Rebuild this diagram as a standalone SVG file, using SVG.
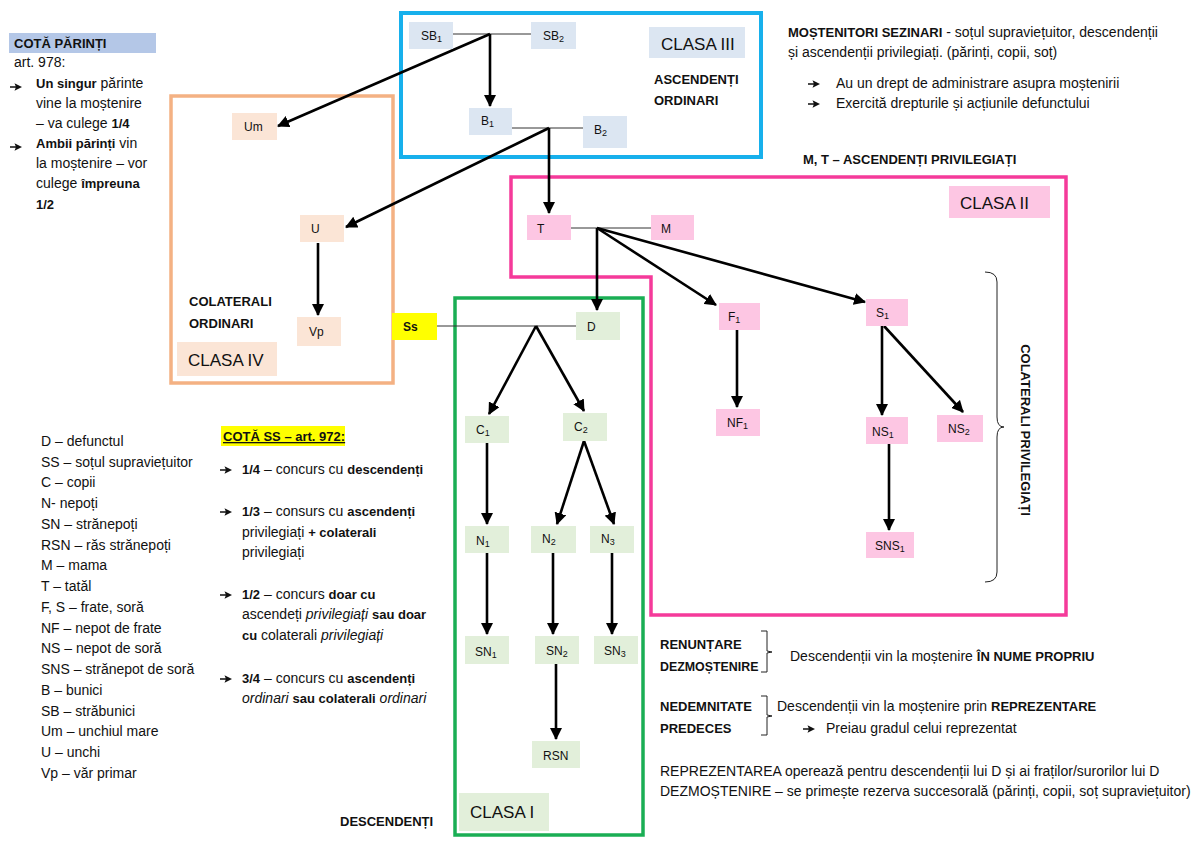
<svg xmlns="http://www.w3.org/2000/svg" xmlns:xlink="http://www.w3.org/1999/xlink" width="1200" height="849" viewBox="0 0 1200 849">
<style>
text{font-family:"Liberation Sans",Arial,sans-serif;font-size:14px;fill:#111}
.b{font-weight:bold;font-size:13px}
.i{font-style:italic}
.n{font-size:12px}
.sub{font-size:9px}
.cl{font-size:17px}
.blue{fill:#dce6f2}
.orng{fill:#fbe5d6}
.grn{fill:#e2efda}
.pink{fill:#fdc6e3}
.arr{stroke:#000;stroke-width:2.6;fill:none;marker-end:url(#ah)}
.thin{stroke:#333;stroke-width:1;fill:none}
</style>
<defs>
<marker id="ah" markerUnits="userSpaceOnUse" markerWidth="12" markerHeight="12" viewBox="0 0 12 12" refX="11" refY="6" orient="auto">
<path d="M0,0 L12,6 L0,12 z" fill="#000"/>
</marker>
<symbol id="bul" viewBox="0 0 12 8">
<path d="M0,3.3 H6 V4.7 H0 z M4.5,0.3 L12,4 L4.5,7.7 L6,4 z" fill="#111"/>
</symbol>
</defs>
<rect width="1200" height="849" fill="#fff"/>

<!-- class frames -->
<g id="frames">
<rect x="401" y="13" width="360" height="144" fill="none" stroke="#17b0ec" stroke-width="4"/>
<rect x="171" y="96" width="222" height="287" fill="none" stroke="#f4b183" stroke-width="3.5"/>
<path d="M511,277 V177 H1066 V615 H651 V277 Z" fill="none" stroke="#f53a9a" stroke-width="3.5"/>
<rect x="455" y="298" width="188" height="537" fill="none" stroke="#1aae54" stroke-width="3.5"/>
</g>

<!-- connectors -->
<g id="connectors">
<line class="thin" x1="453" y1="34" x2="531" y2="34"/>
<line class="thin" x1="512" y1="128" x2="583" y2="128"/>
<line class="thin" x1="571" y1="228" x2="651" y2="228"/>
<line class="thin" x1="437" y1="326" x2="576" y2="326"/>
<line class="arr" x1="490" y1="34" x2="490" y2="106"/>
<line class="arr" x1="490" y1="34" x2="278" y2="126"/>
<line class="arr" x1="549" y1="128" x2="346" y2="227"/>
<line class="arr" x1="549" y1="128" x2="549" y2="213"/>
<line class="arr" x1="318" y1="243" x2="318" y2="315"/>
<line class="arr" x1="597" y1="228" x2="597" y2="310"/>
<line class="arr" x1="597" y1="228" x2="716" y2="305"/>
<line class="arr" x1="597" y1="228" x2="865" y2="302"/>
<line class="arr" x1="737" y1="330" x2="737" y2="407"/>
<line class="arr" x1="882" y1="326" x2="882" y2="415"/>
<line class="arr" x1="884" y1="326" x2="963" y2="412"/>
<line class="arr" x1="889" y1="444" x2="889" y2="530"/>
<line class="arr" x1="536" y1="326" x2="489" y2="414"/>
<line class="arr" x1="536" y1="326" x2="584" y2="411"/>
<line class="arr" x1="487" y1="443" x2="487" y2="524"/>
<line class="arr" x1="584" y1="441" x2="557" y2="524"/>
<line class="arr" x1="584" y1="441" x2="614" y2="524"/>
<line class="arr" x1="487" y1="553" x2="487" y2="634"/>
<line class="arr" x1="553" y1="553" x2="553" y2="634"/>
<line class="arr" x1="612" y1="553" x2="612" y2="634"/>
<line class="arr" x1="556" y1="664" x2="556" y2="739"/>
</g>

<!-- Clasa III nodes -->
<g id="SB1"><rect class="blue" x="409" y="22" width="44" height="27"/><text class="n" x="421" y="40">SB<tspan class="sub" dy="2">1</tspan></text></g>
<g id="SB2"><rect class="blue" x="531" y="22" width="45" height="27"/><text class="n" x="543" y="40">SB<tspan class="sub" dy="2">2</tspan></text></g>
<g id="B1"><rect class="blue" x="469" y="108" width="43" height="27"/><text class="n" x="481" y="125">B<tspan class="sub" dy="2">1</tspan></text></g>
<g id="B2"><rect class="blue" x="583" y="116" width="44" height="32"/><text class="n" x="594" y="134">B<tspan class="sub" dy="2">2</tspan></text></g>
<g id="clasa3"><rect class="blue" x="649" y="27" width="96" height="31"/><text class="cl" x="661" y="50">CLASA III</text></g>
<g id="asc-ord"><text class="b" x="654" y="84">ASCENDENȚI</text><text class="b" x="654" y="105">ORDINARI</text></g>

<!-- Clasa IV nodes -->
<g id="Um"><rect class="orng" x="232" y="113" width="45" height="27"/><text class="n" x="244" y="131">Um</text></g>
<g id="U"><rect class="orng" x="300" y="215" width="44" height="27"/><text class="n" x="311" y="233">U</text></g>
<g id="Vp"><rect class="orng" x="297" y="317" width="44" height="29"/><text class="n" x="309" y="336">Vp</text></g>
<g id="clasa4"><rect class="orng" x="177" y="342" width="100" height="34"/><text class="cl" x="188" y="366">CLASA IV</text></g>
<g id="col-ord"><text class="b" x="189" y="306">COLATERALI</text><text class="b" x="189" y="328">ORDINARI</text></g>

<!-- Ss -->
<g id="Ss"><rect x="392" y="313" width="45" height="27" fill="#ffff00"/><text class="b" x="403" y="331" style="font-size:12px">Ss</text></g>

<!-- Clasa I nodes -->
<g id="D"><rect class="grn" x="576" y="312" width="44" height="28"/><text class="n" x="587" y="331">D</text></g>
<g id="C1"><rect class="grn" x="465" y="416" width="44" height="27"/><text class="n" x="476" y="434">C<tspan class="sub" dy="2">1</tspan></text></g>
<g id="C2"><rect class="grn" x="563" y="413" width="44" height="28"/><text class="n" x="574" y="431">C<tspan class="sub" dy="2">2</tspan></text></g>
<g id="N1"><rect class="grn" x="465" y="526" width="44" height="27"/><text class="n" x="476" y="545">N<tspan class="sub" dy="2">1</tspan></text></g>
<g id="N2"><rect class="grn" x="531" y="526" width="45" height="27"/><text class="n" x="542" y="543">N<tspan class="sub" dy="2">2</tspan></text></g>
<g id="N3"><rect class="grn" x="590" y="526" width="44" height="27"/><text class="n" x="601" y="543">N<tspan class="sub" dy="2">3</tspan></text></g>
<g id="SN1"><rect class="grn" x="465" y="636" width="44" height="28"/><text class="n" x="475" y="656">SN<tspan class="sub" dy="2">1</tspan></text></g>
<g id="SN2"><rect class="grn" x="535" y="636" width="44" height="28"/><text class="n" x="546" y="655">SN<tspan class="sub" dy="2">2</tspan></text></g>
<g id="SN3"><rect class="grn" x="594" y="636" width="44" height="28"/><text class="n" x="604" y="655">SN<tspan class="sub" dy="2">3</tspan></text></g>
<g id="RSN"><rect class="grn" x="532" y="741" width="48" height="27"/><text class="n" x="543" y="760">RSN</text></g>
<g id="clasa1"><rect class="grn" x="459" y="793" width="90" height="38"/><text class="cl" x="470" y="818">CLASA I</text></g>
<g id="desc"><text class="b" x="340" y="826">DESCENDENȚI</text></g>

<!-- Clasa II nodes -->
<g id="T"><rect class="pink" x="527" y="215" width="44" height="25"/><text class="n" x="537" y="233">T</text></g>
<g id="M"><rect class="pink" x="651" y="215" width="43" height="25"/><text class="n" x="661" y="233">M</text></g>
<g id="clasa2"><rect class="pink" x="949" y="186" width="101" height="32"/><text class="cl" x="960" y="209">CLASA II</text></g>
<g id="F1"><rect class="pink" x="719" y="303" width="41" height="27"/><text class="n" x="728" y="321">F<tspan class="sub" dy="2">1</tspan></text></g>
<g id="NF1"><rect class="pink" x="716" y="409" width="44" height="27"/><text class="n" x="727" y="427">NF<tspan class="sub" dy="2">1</tspan></text></g>
<g id="S1"><rect class="pink" x="866" y="299" width="42" height="27"/><text class="n" x="876" y="317">S<tspan class="sub" dy="2">1</tspan></text></g>
<g id="NS1"><rect class="pink" x="866" y="417" width="42" height="27"/><text class="n" x="872" y="436">NS<tspan class="sub" dy="2">1</tspan></text></g>
<g id="NS2"><rect class="pink" x="937" y="415" width="46" height="27"/><text class="n" x="948" y="433">NS<tspan class="sub" dy="2">2</tspan></text></g>
<g id="SNS1"><rect class="pink" x="866" y="532" width="48" height="26"/><text class="n" x="875" y="550">SNS<tspan class="sub" dy="2">1</tspan></text></g>

<!-- brace + colaterali privilegiati -->
<g id="col-priv">
<path d="M985,272 Q997,272 997,282 V417 Q997,427 1004,427 Q997,427 997,437 V572 Q997,582 985,582" fill="none" stroke="#222" stroke-width="1"/>
<text class="b" transform="translate(1021,430) rotate(90)" text-anchor="middle">COLATERALI PRIVILEGIAȚI</text>
</g>

<!-- top-left: cota parinti -->
<g id="cota-parinti">
<rect x="9" y="33" width="147" height="20" fill="#b4c7e7"/>
<text class="b" x="14" y="48">COTĂ PĂRINȚI</text>
<text x="14" y="67">art. 978:</text>
<use xlink:href="#bul" x="10" y="83" width="12" height="8"/>
<text x="36" y="88"><tspan class="b">Un singur</tspan> părinte</text>
<text x="36" y="108">vine la moștenire</text>
<text x="36" y="128">– va culege <tspan class="b">1/4</tspan></text>
<use xlink:href="#bul" x="10" y="143" width="12" height="8"/>
<text x="36" y="148"><tspan class="b">Ambii părinți</tspan> vin</text>
<text x="36" y="168">la moștenire – vor</text>
<text x="36" y="188">culege <tspan class="b">împreuna</tspan></text>
<text class="b" x="36" y="209">1/2</text>
</g>

<!-- top-right -->
<g id="sezinari">
<text x="788" y="37"><tspan class="b">MOȘTENITORI SEZINARI</tspan> - soțul supraviețuitor, descendenții</text>
<text x="788" y="57">și ascendenții privilegiați. (părinți, copii, soț)</text>
<use xlink:href="#bul" x="808" y="80" width="12" height="8"/>
<text x="836" y="88">Au un drept de administrare asupra moștenirii</text>
<use xlink:href="#bul" x="808" y="100" width="12" height="8"/>
<text x="836" y="108">Exercită drepturile și acțiunile defunctului</text>
<text class="b" x="803" y="164">M, T – ASCENDENȚI PRIVILEGIAȚI</text>
</g>

<!-- legend -->
<g id="legend">
<text x="41" y="446">D – defunctul</text>
<text x="41" y="467">SS – soțul supraviețuitor</text>
<text x="41" y="487">C – copii</text>
<text x="41" y="508">N- nepoți</text>
<text x="41" y="529">SN – strănepoți</text>
<text x="41" y="550">RSN – răs strănepoți</text>
<text x="41" y="570">M – mama</text>
<text x="41" y="591">T – tatăl</text>
<text x="41" y="612">F, S – frate, soră</text>
<text x="41" y="633">NF – nepot de frate</text>
<text x="41" y="653">NS – nepot de soră</text>
<text x="41" y="674">SNS – strănepot de soră</text>
<text x="41" y="695">B – bunici</text>
<text x="41" y="716">SB – străbunici</text>
<text x="41" y="736">Um – unchiul mare</text>
<text x="41" y="757">U – unchi</text>
<text x="41" y="778">Vp – văr primar</text>
</g>

<!-- cota SS -->
<g id="cota-ss">
<rect x="221" y="426" width="124" height="20" fill="#ffff00"/>
<text class="b" x="223" y="441" text-decoration="underline">COTĂ SS – art. 972:</text>
<use xlink:href="#bul" x="220" y="466" width="12" height="8"/>
<text x="242" y="474"><tspan class="b">1/4</tspan> – concurs cu <tspan class="b">descendenți</tspan></text>
<use xlink:href="#bul" x="220" y="508" width="12" height="8"/>
<text x="242" y="516"><tspan class="b">1/3</tspan> – consurs cu <tspan class="b">ascendenți</tspan></text>
<text x="242" y="537">privilegiați <tspan class="b">+ colaterali</tspan></text>
<text x="242" y="557">privilegiați</text>
<use xlink:href="#bul" x="220" y="591" width="12" height="8"/>
<text x="242" y="599"><tspan class="b">1/2</tspan> – concurs <tspan class="b">doar cu</tspan></text>
<text x="242" y="619">ascendeți <tspan class="i">privilegiați</tspan> <tspan class="b">sau doar</tspan></text>
<text x="242" y="640"><tspan class="b">cu</tspan> colaterali <tspan class="i">privilegiați</tspan></text>
<use xlink:href="#bul" x="220" y="675" width="12" height="8"/>
<text x="242" y="683"><tspan class="b">3/4</tspan> – concurs cu <tspan class="b">ascendenți</tspan></text>
<text x="242" y="703"><tspan class="i">ordinari</tspan> <tspan class="b">sau colaterali</tspan> <tspan class="i">ordinari</tspan></text>
</g>

<!-- bottom right -->
<g id="reprezentare">
<text class="b" x="660" y="649">RENUNȚARE</text>
<text class="b" x="660" y="671" style="font-size:12.4px">DEZMOȘTENIRE</text>
<path d="M761,631 H767 V651 L772,652 L767,653 V672 H761" fill="none" stroke="#222" stroke-width="1"/>
<text x="790" y="661">Descendenții vin la moștenire <tspan class="b">ÎN NUME PROPRIU</tspan></text>
<text class="b" x="660" y="711">NEDEMNITATE</text>
<text class="b" x="660" y="733">PREDECES</text>
<path d="M761,696 H767 V715 L772,716 L767,717 V735 H761" fill="none" stroke="#222" stroke-width="1"/>
<text x="777" y="711">Descendenții vin la moștenire prin <tspan class="b">REPREZENTARE</tspan></text>
<use xlink:href="#bul" x="803" y="725" width="12" height="8"/>
<text x="826" y="733">Preiau gradul celui reprezentat</text>
<text x="660" y="776">REPREZENTAREA operează pentru descendenții lui D și ai fraților/surorilor lui D</text>
<text x="660" y="796">DEZMOȘTENIRE – se primește rezerva succesorală (părinți, copii, soț supraviețuitor)</text>
</g>
</svg>
